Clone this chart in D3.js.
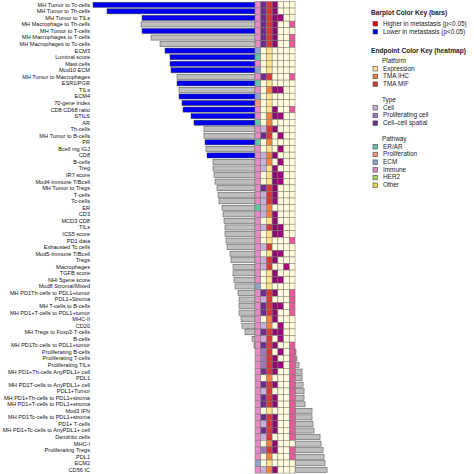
<!DOCTYPE html>
<html><head><meta charset="utf-8">
<script src="https://cdn.jsdelivr.net/npm/d3@7"></script>
<style>body{margin:0;background:#fff}svg{font-family:"Liberation Sans",Arial,sans-serif}</style>
</head><body><div id="chart"></div>
<script>
const labels = ["MH Tumor to Tc-cells","MH Tumor to Th-cells","MH Tumor to TILs","MH Macrophage to Th-cells","MH Tumor to T-cells","MH Macrophages to T-cells","MH Macrophages to Tc-cells","ECM3","Luminal score","Mast cells","Mod10 ECM","MH Tumor to Macrophages","ESR1/PGR","TILs","ECM4","70-gene Index","CD8:CD68 ratio","STILS","AR","Th-cells","MH Tumor to B-cells","PR","Bcell mg IGJ","CD8","B-cells","Treg","IR7 score","Mod4-Immune T/Bcell","MH Tumor to Tregs","T-cells","Tc-cells","ER","CD3","MCD3 CD8","TILs","ICS5 score","PD1 data","Exhausted Tc cells","Mod5-Immune T/Bcell","Tregs","Macrophages","TGFB score","NHI 5gene score","Mod8 Stromal/Mixed","MH PD1Th-cells to PDL1+tumor","PDL1+Stroma","MH T-cells to B-cells","MH PD1+T-cells to PDL1+tumor","MHC-II","CD20","MH Tregs to Foxp3-T-cells","B-cells","MH PD1Tc-cells to PDL1+tumor","Proliferating B-cells","Proliferating T-cells","Proliferating TILs","MH PD1+Th-cells AnyPDL1+ cell","PDL1","MH PD1T-cells to AnyPDL1+ cell","PDL1+Tumor","MH PD1+Th-cells to PDL1+stroma","MH PD1+T-cells to PDL1+stroma","Mod3 IFN","MH PD1Tc-cells to PDL1+stroma","PD1+ T-cells","MH PD1+Tc-cells to AnyPDL1+ cell","Dendritic cells","MHC-I","Proliferating Tregs","PDL1","ECM2","CD56 IC"];
// negative = lower in metastasis (bar to the left), positive = higher (bar to the right)
const values = [-1.62,-1.48,-1.13,-1.14,-1.13,-1.04,-0.95,-0.90,-0.85,-0.85,-0.84,-0.78,-0.78,-0.76,-0.76,-0.73,-0.72,-0.64,-0.61,-0.51,-0.51,-0.50,-0.49,-0.48,-0.42,-0.42,-0.41,-0.40,-0.38,-0.37,-0.36,-0.33,-0.32,-0.31,-0.30,-0.30,-0.29,-0.28,-0.25,-0.24,-0.22,-0.22,-0.21,-0.20,-0.17,-0.16,-0.16,-0.16,-0.14,-0.13,-0.10,-0.03,-0.01,0.01,0.02,0.04,0.07,0.07,0.08,0.09,0.09,0.10,0.17,0.17,0.18,0.19,0.25,0.26,0.28,0.29,0.30,0.32];
const significant = [1,1,1,0,1,0,0,1,1,1,1,0,1,0,1,1,1,1,1,0,0,1,0,1,0,0,0,0,0,0,0,0,0,0,0,0,0,0,0,0,0,0,0,0,0,0,0,0,0,0,0,0,0,0,0,0,0,0,0,0,0,0,0,0,0,0,0,0,0,0,0,0];
// heatmap codes: pathway, type, platform, then four flag columns
const heat = ["Ism1000","Ism1000","Ism1100","Ism1001","Ism1000","Ism1001","Ism1001","Mwx0000","Ewx0000","Iwx0000","Mwx0000","Ism0001","Ewx0000","Iwh1100","Mwx0000","Pwx0000","Iwx1001","Iwh1100","Ewh0000","Icm1000","Ism0100","Ewh0000","Iwx0100","Ich1000","Ich0100","Icx1000","Iwx1100","Iwx1100","Ism1000","Icm1000","Icm1000","Ech0000","Ich1000","Iwx1000","Icm1100","Iwx1100","Iwx0001","Icm0000","Iwx1100","Icm1000","Icm0010","Iwx1000","Iwx1100","Mwx0000","Ism1001","Icm0001","Ism1101","Ism1001","Iwh1000","Ich0100","Ism1100","Icm0100","Ism1001","Ipm0101","Ipm1001","Ipm1101","Ism1001","Iwh0001","Ism1001","Icm0001","Ism1001","Ism1001","Iwx0001","Ism1001","Icm1001","Ism1001","Icm0001","Iwh1000","Ipm1001","Iwh0001","Mwx0000","Ich1000"];

const pathwayColor = {E:"#66c2a5", P:"#f4977a", M:"#8fa2cc", I:"#e68ac7", H:"#a6d854", O:"#e5d84a"};
const typeColor = {w:"#fffbdc", c:"#c8aedb", p:"#9d78b8", s:"#6d2d8c"};
const platformColor = {x:"#fde38e", h:"#f3823f", m:"#d7393a"};
const flagColor = ["#8b0a70","#a0007f","#b5007a","#e65a9b"];
const cream = "#fffbdc";

const W = 474, H = 474;
const svg = d3.select("#chart").append("svg").attr("width", W).attr("height", H);

const heatLeft = 255, cellW = 5.72, nCols = 7, heatRight = heatLeft + cellW * nCols;
const y = d3.scaleBand().domain(d3.range(labels.length)).range([1.5, 1.5 + 6.55 * labels.length]).paddingInner(0);
const len = d3.scaleLinear().domain([0, 1]).range([0, 100]);

// bars
const bh = y.bandwidth() * 0.78;
svg.append("g").selectAll("rect").data(values).join("rect")
  .attr("x", d => d < 0 ? heatLeft - len(-d) : heatRight)
  .attr("y", (d, i) => y(i) + (y.bandwidth() - bh) / 2)
  .attr("width", d => len(Math.abs(d)))
  .attr("height", bh)
  .attr("fill", (d, i) => significant[i] ? (d < 0 ? "#0000ee" : "#ee0000") : "#bebebe")
  .attr("stroke", "#444").attr("stroke-width", 0.5);

// labels
svg.append("g").selectAll("text").data(labels).join("text")
  .attr("x", 90).attr("y", (d, i) => y(i) + y.bandwidth() / 2)
  .attr("dy", "0.35em").attr("text-anchor", "end")
  .attr("font-size", 5.6).attr("fill", "#111").text(d => d);

// heatmap
const cells = [];
heat.forEach((code, i) => {
  cells.push({i, c: 0, fill: pathwayColor[code[0]]});
  cells.push({i, c: 1, fill: typeColor[code[1]]});
  cells.push({i, c: 2, fill: platformColor[code[2]]});
  for (let k = 0; k < 4; k++) cells.push({i, c: 3 + k, fill: code[3 + k] === "1" ? flagColor[k] : cream});
});
svg.append("g").selectAll("rect").data(cells).join("rect")
  .attr("x", d => heatLeft + d.c * cellW).attr("y", d => y(d.i))
  .attr("width", cellW).attr("height", y.bandwidth())
  .attr("fill", d => d.fill).attr("stroke", "#7a7a6a").attr("stroke-width", 0.5);

// legend
const lg = svg.append("g").attr("font-size", 6.4).attr("fill", "#222");
const sq = (yy, fill) => lg.append("rect").attr("x", 373).attr("y", yy - 3.5).attr("width", 4.5).attr("height", 4.5)
  .attr("fill", fill).attr("stroke", "#444").attr("stroke-width", 0.6);
const tx = (xx, yy, t, bold) => lg.append("text").attr("x", xx).attr("y", yy).attr("dy", "0.1em")
  .attr("font-weight", bold ? "bold" : null).attr("font-size", bold ? 6.6 : 6.4).text(t);

tx(371, 14, "Barplot Color Key (bars)", true);
sq(25, "#ee0000"); tx(383, 25, "Higher in metastasis (p<0.05)");
sq(33, "#0000ee"); tx(383, 33, "Lower in metastasis (p<0.05)");
tx(371, 52, "Endpoint Color Key (heatmap)", true);

const groups = [
  {title: "Platform", y0: 62, items: [["Expression", platformColor.x], ["TMA IHC", platformColor.h], ["TMA MIF", platformColor.m]]},
  {title: "Type", y0: 101, items: [["Cell", typeColor.c], ["Proliferating cell", typeColor.p], ["Cell\u2013cell spatial", typeColor.s]]},
  {title: "Pathway", y0: 140, items: [["ER/AR", pathwayColor.E], ["Proliferation", pathwayColor.P], ["ECM", pathwayColor.M], ["Immune", pathwayColor.I], ["HER2", pathwayColor.H], ["Other", pathwayColor.O]]}
];
groups.forEach(g => {
  tx(382, g.y0, g.title);
  g.items.forEach((it, k) => { const yy = g.y0 + 8 + k * 7.7; sq(yy, it[1]); tx(383, yy, it[0]); });
});
</script></body></html>
